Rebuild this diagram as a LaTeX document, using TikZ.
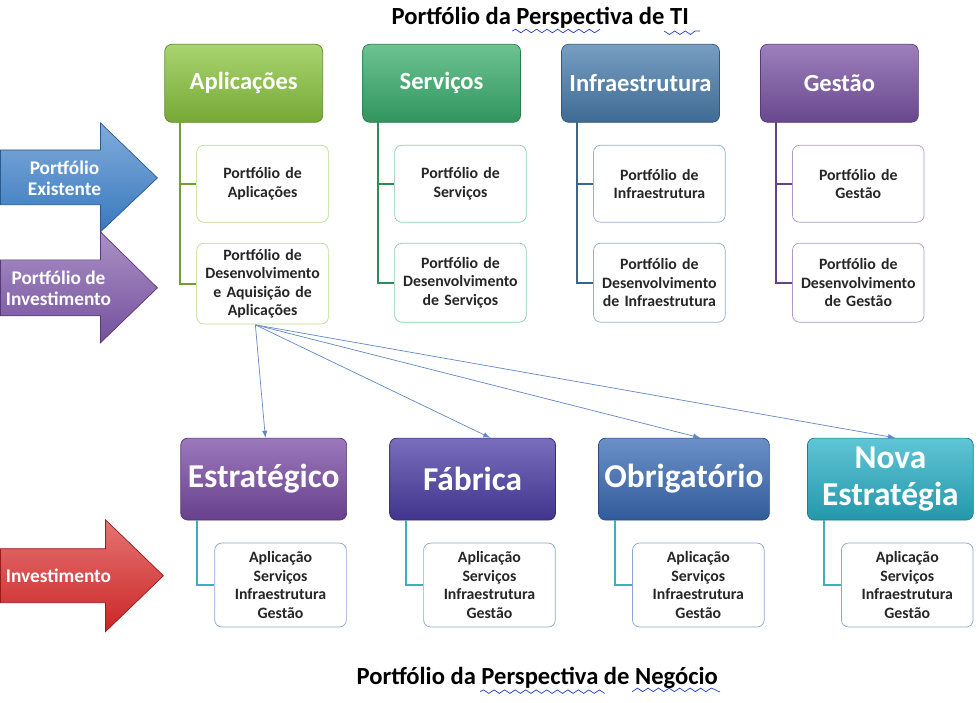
\documentclass[tikz,border=0pt]{standalone}
\usepackage{fontspec}
\setmainfont{Carlito}
\usetikzlibrary{decorations.pathmorphing}
\definecolor{cA}{HTML}{8CC63F}
\definecolor{cS}{HTML}{3AAF6E}
\definecolor{cI}{HTML}{4A7DAD}
\definecolor{cG}{HTML}{7B55A6}
\definecolor{cE}{HTML}{7A4BA5}
\definecolor{cF}{HTML}{4C3DA6}
\definecolor{cO}{HTML}{3A6BB5}
\definecolor{cN}{HTML}{2AB2C8}
\definecolor{cB}{HTML}{3C7FC8}
\definecolor{cR}{HTML}{D62828}
\definecolor{teal2}{HTML}{3FAFC0}
\definecolor{sq}{HTML}{2040C0}
\tikzset{x=0.02cm,y=-0.02cm,
 hdr/.style={draw=#1!70!black,top color=#1!75!white,bottom color=#1!85!black,rounded corners=4pt,minimum width=3.16cm,minimum height=1.56cm,text=white,font=\bfseries\fontsize{14}{16}\selectfont,anchor=north west},
 hdrb/.style={draw=#1!70!black,top color=#1!75!white,bottom color=#1!85!black,rounded corners=4pt,minimum width=3.32cm,minimum height=1.64cm,text=white,font=\bfseries\fontsize{19}{21}\selectfont,align=center,anchor=north west},
 sub/.style={draw=#1!60!white,fill=white,rounded corners=4pt,minimum width=2.52cm,text width=2.4cm,align=center,font=\bfseries\fontsize{9}{10.5}\selectfont,text=black!85,anchor=north west},
 arrfill/.style={draw=#1!70!black,top color=#1!65!white,bottom color=#1!95!black},
 arrtxt/.style={text=white,font=\bfseries\fontsize{11}{12}\selectfont,align=center},
 conn/.style={draw=#1,line width=1.2pt},
 lnk/.style={draw=cO!80!white,->,>=latex}}
\begin{document}
\begin{tikzpicture}
\fill[white] (0,0) rectangle (979,703);
\node[font=\bfseries\fontsize{14}{16}\selectfont] (t1) at (540,18) {Portfólio da Perspectiva de TI};
\draw[sq,decorate,decoration={snake,amplitude=1pt,segment length=6pt}] (512,31)--(598,31) (664,31)--(700,31);
\node[font=\bfseries\fontsize{14}{16}\selectfont] (t2) at (537,678) {Portfólio da Perspectiva de Negócio};
\draw[sq,decorate,decoration={snake,amplitude=1pt,segment length=6pt}] (480,692)--(600,692) (632,692)--(720,692);
% left arrows
\path[arrfill=cB] (0,150)--(100,150)--(100,123)--(157,178)--(100,232)--(100,205)--(0,205)--cycle;
\node[arrtxt] (a1) at (64,178) {Portfólio\\Existente};
\path[arrfill=cG] (0,260)--(100,260)--(100,232)--(157,288)--(100,343)--(100,316)--(0,316)--cycle;
\node[arrtxt] (a2) at (58,288) {Portfólio de\\Investimento};
\path[arrfill=cR] (0,549)--(105,549)--(105,520)--(163,576)--(105,632)--(105,603)--(0,603)--cycle;
\node[arrtxt] (a3) at (58,576) {Investimento};
% top columns
\foreach \n/\x/\c/\t/\sa/\sb in {A/164/cA/Aplicações/{Portfólio de\\Aplicações}/{Portfólio de\\Desenvolvimento\\e Aquisição de\\Aplicações},
 S/362/cS/Serviços/{Portfólio de\\Serviços}/{Portfólio de\\Desenvolvimento\\de Serviços},
 I/561/cI/Infraestrutura/{Portfólio de\\Infraestrutura}/{Portfólio de\\Desenvolvimento\\de Infraestrutura},
 G/760/cG/Gestão/{Portfólio de\\Gestão}/{Portfólio de\\Desenvolvimento\\de Gestão}}{
 \node[hdr=\c] (h\n) at (\x,44) {\t};
 \node[sub=\c,minimum height=1.54cm] (s\n1) at (\x+32,145) {\sa};
 \node[sub=\c,minimum height=1.58cm] (s\n2) at (\x+32,243) {\sb};
 \coordinate (v\n) at (\x+16,122);
 \draw[conn=\c!80!black] (v\n) |- (s\n1.west);
 \draw[conn=\c!80!black] (v\n) |- (s\n2.west);
}
% bottom columns
\foreach \n/\x/\c/\t in {E/180/cE/Estratégico,F/389/cF/Fábrica,O/598/cO/Obrigatório,N/807/cN/{Nova\\Estratégia}}{
 \node[hdrb=\c] (b\n) at (\x,438) {\t};
 \node[sub=cO,minimum height=1.68cm] (c\n) at (\x+34,543) {Aplicação\\Serviços\\Infraestrutura\\Gestão};
 \coordinate (w\n) at (\x+17,520);
 \draw[conn=teal2] (w\n) |- (c\n.west);
}
\coordinate (src) at (255,325);
\draw[lnk] (src) -- (265,438);
\draw[lnk] (src) -- (490,438);
\draw[lnk] (src) -- (700,438);
\draw[lnk] (src) -- (895,438);
\end{tikzpicture}
\end{document}
